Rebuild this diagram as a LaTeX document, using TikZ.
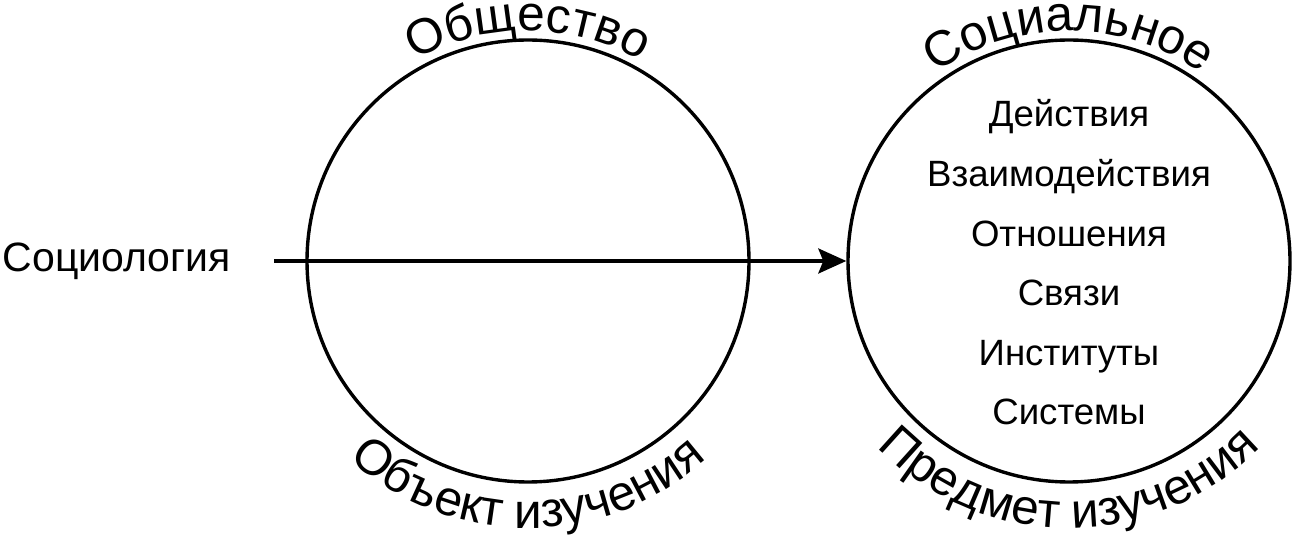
\documentclass[tikz,border=0pt]{standalone}
\usepackage{fontspec}
\setmainfont{Liberation Sans}
\usetikzlibrary{arrows.meta,positioning,decorations.text}

\tikzset{
  ring/.style={circle,draw,line width=3.4pt,minimum size=442pt,inner sep=0pt},
  tag/.style={inner sep=0pt,font=\fontsize{41pt}{41pt}\selectfont},
  item/.style={inner sep=0pt,anchor=base,font=\fontsize{36.6pt}{36.6pt}\selectfont},
  arctext/.style={decorate,decoration={text along path,text align=center,
      text={|\fontsize{49.5pt}{49.5pt}\selectfont|#1}}},
  arrow/.style={line width=3.4pt,-{Stealth[length=28pt,width=25pt,inset=5pt]}}
}

\begin{document}
\begin{tikzpicture}[x=1pt,y=1pt]
  \useasboundingbox (0,0) rectangle (1293,541);
  \node[ring] (obj) at (528,280) {};
  \node[ring] (subj) at (1069,280) {};
  \node[tag,anchor=east] (soc) at (231,280) {Социология};
  \draw[arrow,shorten <=43pt] (soc.east) -- (subj.west);
  % texts round the rings
  \path[arctext=Общество] ([shift={(160:230pt)}]obj.center)
    arc[start angle=160,end angle=20,radius=230pt];
  \path[arctext={Объект изучения}] ([shift={(200:267pt)}]obj.center)
    arc[start angle=200,end angle=340,radius=267pt];
  \path[arctext=Социальное] ([shift={(160:230pt)}]subj.center)
    arc[start angle=160,end angle=20,radius=230pt];
  \path[arctext={Предмет изучения}] ([shift={(200:267pt)}]subj.center)
    arc[start angle=200,end angle=340,radius=267pt];
  % inside the right ring
  \node[item] (i1) at (1069,414) {Действия};
  \node[item] (i2) at ([yshift=-59.6pt]i1.base) {Взаимодействия};
  \node[item] (i3) at ([yshift=-59.6pt]i2.base) {Отношения};
  \node[item] (i4) at ([yshift=-59.6pt]i3.base) {Связи};
  \node[item] (i5) at ([yshift=-59.6pt]i4.base) {Институты};
  \node[item] (i6) at ([yshift=-59.6pt]i5.base) {Системы};
\end{tikzpicture}
\end{document}
